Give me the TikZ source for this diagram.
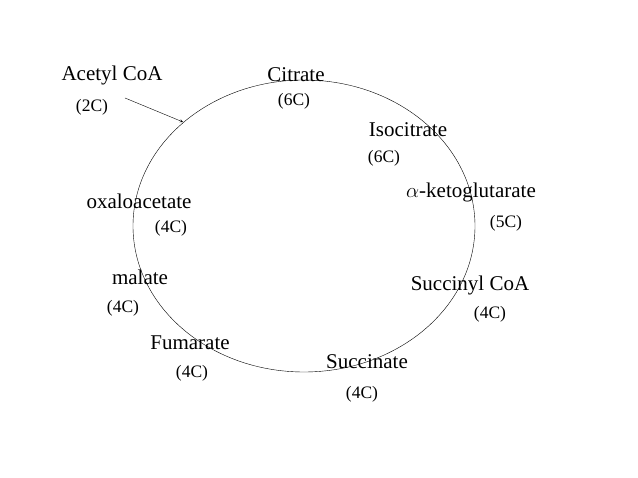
\documentclass[tikz,border=0pt]{standalone}
\usepackage{fontspec}
\setmainfont{Liberation Serif}
\begin{document}
\begin{tikzpicture}[x=1pt,y=-1pt,
	stage/.style={font=\fontsize{21}{24}\selectfont},
	carbon/.style={font=\fontsize{17.5}{20}\selectfont}]
	\useasboundingbox (0,0) rectangle (638,478);
	\draw (304,226) ellipse [x radius=171, y radius=146];
	% intermediates
	\node[stage] (acetyl) at (112,75) {Acetyl CoA};
	\node[carbon] (acetylc) at (92,107) {(2C)};
	\node[stage] (citrate) at (296,75) {Citrate};
	\node[carbon] (citratec) at (294,101) {(6C)};
	\node[stage] (isocit) at (408,130) {Isocitrate};
	\node[carbon] (isocitc) at (384,158) {(6C)};
	\node[stage] (akg) at (471,192) {$\alpha$-ketoglutarate};
	\node[carbon] (akgc) at (506,223) {(5C)};
	\node[stage] (oxalo) at (139,201) {oxaloacetate};
	\node[carbon] (oxaloc) at (171,228) {(4C)};
	\node[stage] (malate) at (140,277) {malate};
	\node[carbon] (malatec) at (123,308) {(4C)};
	\node[stage] (succoa) at (470,285) {Succinyl CoA};
	\node[carbon] (succoac) at (490,314) {(4C)};
	\node[stage] (fum) at (190,343) {Fumarate};
	\node[carbon] (fumc) at (192,373) {(4C)};
	\node[stage] (succ) at (367,362) {Succinate};
	\node[carbon] (succc) at (362,394) {(4C)};
	\coordinate (entry) at (183,122);
	\draw[-stealth] (125,98) -- (entry);
\end{tikzpicture}
\end{document}
